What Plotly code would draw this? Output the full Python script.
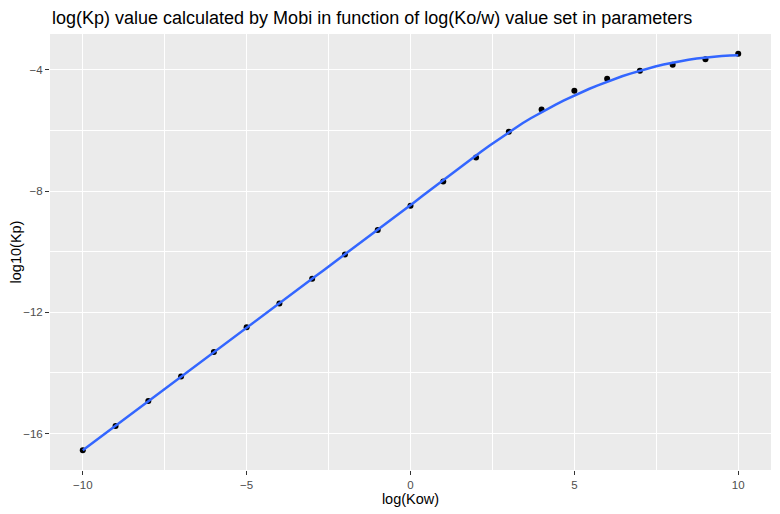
#!/usr/bin/env python3

import numpy as np
import plotly.graph_objs as go

# valores
log_kow = [-10, -9, -8, -7, -6, -5, -4, -3, -2, -1, 0, 1, 2, 3, 4, 5, 6, 7, 8, 9, 10]
log_kp = [-16.55, -15.75, -14.93, -14.12, -13.31, -12.49, -11.71, -10.89, -10.09, -9.28,
          -8.48, -7.68, -6.89, -6.04, -5.31, -4.69, -4.29, -4.03, -3.83, -3.65, -3.47]

x_ticks = [-10, -5, 0, 5, 10]
y_ticks = [-16, -12, -8, -4]


def loess(x, y, xs, span=0.75):
    """
    Ajuste loess local cuadratico (como geom_smooth por defecto).
    """
    x = np.asarray(x, float)
    y = np.asarray(y, float)
    n = len(x)
    q = int(np.floor(n * span))
    fit = []
    for x0 in xs:
        d = np.abs(x - x0)
        h = np.sort(d)[q - 1]
        w = np.where(d < h, (1 - (d / h) ** 3) ** 3, 0.0)
        X = np.vstack([np.ones(n), x - x0, (x - x0) ** 2]).T
        sw = np.sqrt(w)
        beta = np.linalg.lstsq(X * sw[:, None], y * sw, rcond=None)[0]
        fit.append(beta[0])
    return np.array(fit)


xs = np.linspace(min(log_kow), max(log_kow), 80)
ys = loess(log_kow, log_kp, xs)

fig = go.Figure()
fig.add_trace(go.Scatter(
    x=log_kow, y=log_kp, mode='markers',
    marker=dict(color='black', size=6),
    showlegend=False
))
fig.add_trace(go.Scatter(
    x=xs, y=ys, mode='lines',
    line=dict(color='#3366FF', width=2.5),
    showlegend=False
))

xr = [min(log_kow), max(log_kow)]
yr = [min(log_kp), max(log_kp)]
xpad = 0.05 * (xr[1] - xr[0])
ypad = 0.05 * (yr[1] - yr[0])

axis_common = dict(
    showgrid=True, gridcolor='white', gridwidth=1.1,
    zeroline=False, showline=False, automargin=False,
    ticks='outside', ticklen=4, tickwidth=1, tickcolor='#333333',
    tickfont=dict(family='Liberation Sans, Arial', size=11.5, color='#4D4D4D'),
    title_font=dict(family='Liberation Sans, Arial', size=14.5, color='black'),
)

# la pagina tiene un margen de 8px en el body
fig.update_layout(
    width=772, height=506,
    paper_bgcolor='white',
    plot_bgcolor='#EBEBEB',
    margin=dict(l=42, r=9, t=26, b=44),
    xaxis=dict(
        axis_common,
        range=[xr[0] - xpad, xr[1] + xpad],
        tickvals=x_ticks,
        title=dict(text='log(Kow)', standoff=4),
        minor=dict(tickvals=[-7.5, -2.5, 2.5, 7.5], showgrid=True,
                   gridcolor='white', gridwidth=0.55, ticklen=0),
    ),
    yaxis=dict(
        axis_common,
        range=[yr[0] - ypad, yr[1] + ypad],
        tickvals=y_ticks,
        title=dict(text='log10(Kp)', standoff=13),
        minor=dict(tickvals=[-14, -10, -6], showgrid=True,
                   gridcolor='white', gridwidth=0.55, ticklen=0),
    ),
)

# titulo como anotacion, alineado con el panel
fig.add_annotation(
    text='log(Kp) value calculated by Mobi in function of log(Ko/w) value set in parameters',
    font=dict(family='Liberation Sans, Arial', size=18, color='black'),
    xref='paper', x=0, xanchor='left',
    yref='paper', y=1 + 16 / 436, yanchor='middle',
    showarrow=False
)

fig.write_html("out.html")
